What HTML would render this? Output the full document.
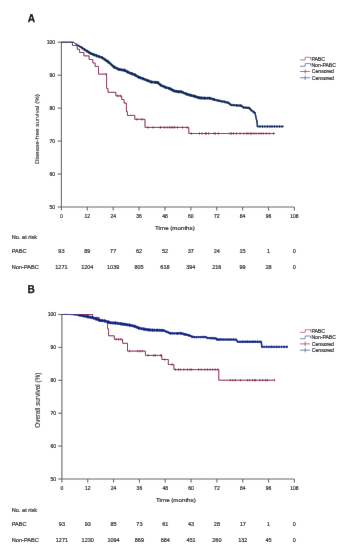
<!DOCTYPE html>
<html><head><meta charset="utf-8"><title>Kaplan-Meier survival curves</title>
<style>
html,body{margin:0;padding:0;background:#fff;}
body{width:345px;height:550px;overflow:hidden;}
svg{display:block;font-family:"Liberation Sans",Arial,sans-serif;}
text{stroke:#2a2a2a;stroke-width:0.2px;}
</style></head><body>
<svg width="345" height="550" viewBox="0 0 345 550">
<defs><filter id="bl" x="0" y="0" width="345" height="550" filterUnits="userSpaceOnUse"><feConvolveMatrix order="3" kernelMatrix="0.0016 0.0371 0.0016 0.0371 0.8450 0.0371 0.0016 0.0371 0.0016" edgeMode="duplicate"/></filter></defs><g filter="url(#bl)">
<rect width="345" height="550" fill="#fff"/>
<text x="27.8" y="21.7" font-size="10.2" font-weight="bold" fill="#000" style="stroke:#000;stroke-width:0.25px">A</text>
<text x="27.6" y="293.4" font-size="10.2" font-weight="bold" fill="#000" style="stroke:#000;stroke-width:0.25px">B</text>
<g stroke="#666666" stroke-width="1.1" fill="none">
<path d="M61.4 41.9 V207 H294.4"/>
<path d="M57.7 42.2 H61.4"/>
<path d="M57.7 75.16 H61.4"/>
<path d="M57.7 108.12 H61.4"/>
<path d="M57.7 141.08 H61.4"/>
<path d="M57.7 174.04 H61.4"/>
<path d="M57.7 207 H61.4"/>
<path d="M87.29 207 V210.6"/>
<path d="M113.18 207 V210.6"/>
<path d="M139.07 207 V210.6"/>
<path d="M164.96 207 V210.6"/>
<path d="M190.84 207 V210.6"/>
<path d="M216.73 207 V210.6"/>
<path d="M242.62 207 V210.6"/>
<path d="M268.51 207 V210.6"/>
<path d="M294.4 207 V210.6"/>
<path d="M61.4 207 V210.6"/>
</g>
<g font-size="5.1" fill="#1e1e1e" text-anchor="end">
<text x="55.2" y="44">100</text>
<text x="55.2" y="76.96">90</text>
<text x="55.2" y="109.92">80</text>
<text x="55.2" y="142.88">70</text>
<text x="55.2" y="175.84">60</text>
<text x="55.2" y="208.8">50</text>
</g>
<g font-size="5" fill="#1e1e1e" text-anchor="middle">
<text x="61.4" y="218">0</text>
<text x="87.29" y="218">12</text>
<text x="113.18" y="218">24</text>
<text x="139.07" y="218">36</text>
<text x="164.96" y="218">48</text>
<text x="190.84" y="218">60</text>
<text x="216.73" y="218">72</text>
<text x="242.62" y="218">84</text>
<text x="268.51" y="218">96</text>
<text x="294.4" y="218">108</text>
</g>
<text x="174.9" y="229.8" font-size="6.2" fill="#1e1e1e" text-anchor="middle">Time (months)</text>
<text transform="translate(39.2 129) rotate(-90)" font-size="6.25" fill="#222" style="stroke:#333;stroke-width:0.1px" text-anchor="middle">Disease-free survival (%)</text>
<path d="M61.4 42.2 H72.4 V45.5 H77.2 V49.3 H79.6 V52.5 H83.9 V55.9 H89.1 V59.5 H92.8 V63 H95.1 V66.4 H98.5 V74.1 H106.6 V88.4 H108 V92.3 H115.9 V95.9 H121.7 V99.5 H124 V103.1 H126.4 V111.5 H127.4 V115.4 H134.8 V119.3 H145 V127.4 H188.8 V133.5 H274.8" fill="none" stroke="#86174f" stroke-width="1"/>
<g stroke="#86174f" stroke-width="0.8">
<path d="M106.2 72.9 V75.3"/>
<path d="M117.6 94.7 V97.1"/>
<path d="M120.3 94.7 V97.1"/>
<path d="M137 118.1 V120.5"/>
<path d="M142 118.1 V120.5"/>
<path d="M147.8 126.2 V128.6"/>
<path d="M153 126.2 V128.6"/>
<path d="M164.3 126.2 V128.6"/>
<path d="M167 126.2 V128.6"/>
<path d="M169.6 126.2 V128.6"/>
<path d="M171.3 126.2 V128.6"/>
<path d="M173 126.2 V128.6"/>
<path d="M174.8 126.2 V128.6"/>
<path d="M177.4 126.2 V128.6"/>
<path d="M182.6 126.2 V128.6"/>
<path d="M187 126.2 V128.6"/>
<path d="M199.5 132.3 V134.7"/>
<path d="M202.1 132.3 V134.7"/>
<path d="M205.3 132.3 V134.7"/>
<path d="M206.4 132.3 V134.7"/>
<path d="M208.5 132.3 V134.7"/>
<path d="M214 132.3 V134.7"/>
<path d="M215.4 132.3 V134.7"/>
<path d="M218.3 132.3 V134.7"/>
<path d="M230.2 132.3 V134.7"/>
<path d="M231.7 132.3 V134.7"/>
<path d="M233.6 132.3 V134.7"/>
<path d="M236.5 132.3 V134.7"/>
<path d="M240.1 132.3 V134.7"/>
<path d="M243.8 132.3 V134.7"/>
<path d="M246.7 132.3 V134.7"/>
<path d="M248.1 132.3 V134.7"/>
<path d="M250.3 132.3 V134.7"/>
<path d="M251.7 132.3 V134.7"/>
<path d="M253.9 132.3 V134.7"/>
<path d="M256.1 132.3 V134.7"/>
<path d="M259 132.3 V134.7"/>
<path d="M261.2 132.3 V134.7"/>
<path d="M263.3 132.3 V134.7"/>
<path d="M266.2 132.3 V134.7"/>
<path d="M269.1 132.3 V134.7"/>
<path d="M273.5 132.3 V134.7"/>
</g>
<g fill="#86174f">
<circle cx="160.5" cy="127.4" r="1.1"/>
<circle cx="191.3" cy="133.5" r="1.1"/>
</g>
<g stroke="#072a60" stroke-linecap="round" fill="none"><path d="M61.4 42.2 L73.2 42.2" stroke-width="0.9"/><path d="M73.2 42.2 L75.8 43.8" stroke-width="1"/><path d="M75.8 43.8 L78.7 45.8" stroke-width="1.3"/><path d="M78.7 45.8 L81.6 47.5" stroke-width="1.53"/><path d="M81.6 47.5 L84.5 49.6" stroke-width="1.87"/><path d="M84.5 49.6 L87.4 51.3" stroke-width="1.95"/><path d="M87.4 51.3 L90.8 53.5" stroke-width="2.08"/><path d="M90.8 53.5 L96.6 55.7" stroke-width="2.21"/><path d="M96.6 55.7 L102.4 57.8" stroke-width="2.21"/><path d="M102.4 57.8 L108.2 61.8" stroke-width="2.21"/><path d="M108.2 61.8 L114 67" stroke-width="2.21"/><path d="M114 67 L118.6 69.3" stroke-width="2.21"/><path d="M118.6 69.3 L124.6 70.3" stroke-width="2.21"/><path d="M124.6 70.3 L128.1 72.2" stroke-width="2.21"/><path d="M128.1 72.2 L131.6 73.6" stroke-width="2.21"/><path d="M131.6 73.6 L135.1 75" stroke-width="2.21"/><path d="M135.1 75 L138.6 77.1" stroke-width="2.21"/><path d="M138.6 77.1 L143.2 78.8" stroke-width="2.21"/><path d="M143.2 78.8 L147.8 80.6" stroke-width="2.21"/><path d="M147.8 80.6 L151.3 82" stroke-width="2.21"/><path d="M151.3 82 L155.9 82.4" stroke-width="2.21"/><path d="M155.9 82.4 L157.9 82.6" stroke-width="2.21"/><path d="M157.9 82.6 L160.8 85.2" stroke-width="2.21"/><path d="M160.8 85.2 L165.4 87.3" stroke-width="2.21"/><path d="M165.4 87.3 L170.1 88.7" stroke-width="2.21"/><path d="M170.1 88.7 L174.1 91" stroke-width="2.21"/><path d="M174.1 91 L178.2 91.7" stroke-width="2.21"/><path d="M178.2 91.7 L181.7 91.9" stroke-width="2.21"/><path d="M181.7 91.9 L186.3 94" stroke-width="2.21"/><path d="M186.3 94 L190.9 95.4" stroke-width="2.21"/><path d="M190.9 95.4 L194.6 96.3" stroke-width="2.21"/><path d="M194.6 96.3 L199.3 97.9" stroke-width="2.21"/><path d="M199.3 97.9 L205.1 98.2" stroke-width="2.21"/><path d="M205.1 98.2 L209.7 98.2" stroke-width="2.21"/><path d="M209.7 98.2 L214.3 99.6" stroke-width="2.08"/><path d="M214.3 99.6 L219 100.8" stroke-width="1.95"/><path d="M219 100.8 L224.8 101.9" stroke-width="1.87"/><path d="M224.8 101.9 L228.5 102.9" stroke-width="1.78"/><path d="M228.5 102.9 L230.8 104.9" stroke-width="1.78"/><path d="M230.8 104.9 L236.6 105.4" stroke-width="1.78"/><path d="M236.6 105.4 L241.2 105.7" stroke-width="1.78"/><path d="M241.2 105.7 L243.6 107.5" stroke-width="1.78"/><path d="M243.6 107.5 L249.3 108" stroke-width="1.78"/><path d="M249.3 108 L251.1 110.1" stroke-width="1.78"/><path d="M251.1 110.1 L254 112.2" stroke-width="1.78"/><path d="M254 112.2 L255.1 113" stroke-width="1.66"/><path d="M255.1 113 L255.7 116.4" stroke-width="1.45"/><path d="M255.7 116.4 L256.9 121.1" stroke-width="1.6"/><path d="M256.9 121.1 L257.5 126.4" stroke-width="1.6"/><path d="M257.5 126.4 L258.6 126.5" stroke-width="1.6"/><path d="M258.6 126.5 L283 126.5" stroke-width="1.6"/></g><path d="M78.7 44.72v2.16M79.89 45.42v2.16M80.88 46v2.16M81.6 46.18v2.64M82.45 46.8v2.64M83.79 47.76v2.64M84.5 48.22v2.76M85.39 48.74v2.76M86.78 49.56v2.76M87.4 49.83v2.94M88.67 50.65v2.94M89.55 51.22v2.94M90.46 51.81v2.94M90.8 51.94v3.12M92.69 52.66v3.12M93.73 53.05v3.12M94.9 53.49v3.12M96.55 54.12v3.12M96.6 54.14v3.12M98.2 54.72v3.12M99.58 55.22v3.12M101.65 55.97v3.12M102.4 56.24v3.12M104.09 57.41v3.12M105.19 58.16v3.12M106.13 58.81v3.12M107.05 59.44v3.12M108.16 60.21v3.12M108.2 60.24v3.12M109.09 61.04v3.12M110.36 62.17v3.12M111.68 63.36v3.12M112.75 64.32v3.12M113.99 65.43v3.12M114 65.44v3.12M114.93 65.9v3.12M116.02 66.45v3.12M117.66 67.27v3.12M118.6 67.74v3.12M119.94 67.96v3.12M121.63 68.24v3.12M123.15 68.5v3.12M124.47 68.72v3.12M124.6 68.74v3.12M126.23 69.62v3.12M127.35 70.23v3.12M128.1 70.64v3.12M129.62 71.25v3.12M131.55 72.02v3.12M131.6 72.04v3.12M132.83 72.53v3.12M134.89 73.36v3.12M135.1 73.44v3.12M136.38 74.21v3.12M138.04 75.2v3.12M138.6 75.54v3.12M140.09 76.09v3.12M141.04 76.44v3.12M142.74 77.07v3.12M143.2 77.24v3.12M144.78 77.86v3.12M146.71 78.62v3.12M147.8 79.04v3.12M149.52 79.73v3.12M151.12 80.37v3.12M151.3 80.44v3.12M152.84 80.57v3.12M154.87 80.75v3.12M155.9 80.84v3.12M157.46 81v3.12M157.9 81.04v3.12M158.67 81.73v3.12M160.06 82.97v3.12M160.8 83.64v3.12M162.83 84.57v3.12M164.66 85.4v3.12M165.4 85.74v3.12M166.79 86.16v3.12M168.53 86.67v3.12M169.48 86.96v3.12M170.1 87.14v3.12M171.12 87.73v3.12M172.08 88.28v3.12M172.98 88.8v3.12M174.1 89.44v3.12M175.21 89.63v3.12M176.47 89.84v3.12M177.91 90.09v3.12M178.2 90.14v3.12M179.26 90.2v3.12M180.79 90.29v3.12M181.7 90.34v3.12M183.6 91.21v3.12M185.43 92.04v3.12M186.3 92.44v3.12M187.56 92.82v3.12M188.99 93.26v3.12M190.34 93.67v3.12M190.9 93.84v3.12M193.02 94.36v3.12M194.14 94.63v3.12M194.6 94.74v3.12M195.79 95.15v3.12M196.98 95.55v3.12M198.48 96.06v3.12M199.3 96.34v3.12M200.59 96.41v3.12M201.56 96.46v3.12M203.05 96.53v3.12M204.48 96.61v3.12M205.1 96.64v3.12M207.28 96.64v3.12M209.12 96.64v3.12M209.7 96.73v2.94M211.37 97.24v2.94M213.12 97.77v2.94M214.11 98.07v2.94M214.3 98.22v2.76M216.2 98.7v2.76M218.21 99.22v2.76M219 99.48v2.64M220.44 99.75v2.64M221.88 100.03v2.64M222.95 100.23v2.64M224.7 100.56v2.64M224.8 100.64v2.52M225.81 100.91v2.52M226.99 101.23v2.52M228.12 101.54v2.52M228.5 101.64v2.52M229.28 102.31v2.52M230 102.94v2.52M230.8 103.64v2.52M231.89 103.73v2.52M233.31 103.86v2.52M234.29 103.94v2.52M236.37 104.12v2.52M236.6 104.14v2.52M237.75 104.21v2.52M239.03 104.3v2.52M240.43 104.39v2.52M241.2 104.44v2.52M242.09 105.11v2.52M243.6 106.24v2.52M245.82 106.43v2.52M247.37 106.57v2.52M248.95 106.71v2.52M249.3 106.74v2.52M250.01 107.57v2.52M250.92 108.63v2.52M251.1 108.84v2.52M252.74 110.03v2.52M253.68 110.71v2.52M254 111.03v2.34M255.1 111.98v2.04M255.38 113.59v2.04M255.58 114.72v2.04" stroke="#072a60" stroke-width="0.8" fill="none"/>
<g stroke="#072a60" stroke-width="0.9">
<path d="M260 125.2 V127.8"/>
<path d="M262.5 125.2 V127.8"/>
<path d="M265 125.2 V127.8"/>
<path d="M267.5 125.2 V127.8"/>
<path d="M270 125.2 V127.8"/>
<path d="M272 125.2 V127.8"/>
<path d="M274.5 125.2 V127.8"/>
<path d="M277 125.2 V127.8"/>
<path d="M279.5 125.2 V127.8"/>
<path d="M282 125.2 V127.8"/>
</g>
<g fill="none" stroke-width="0.8">
<path d="M300.1 59.9 H305.2 V57.3 H310.5 V59.3" stroke="#b5507f"/>
<path d="M300.1 66.3 H305.2 V63.6 H310.5 V65.6" stroke="#4f6e9e"/>
<path d="M299.9 71.5 H310.1 M305.2 69.3 V73.7" stroke="#a8407a"/>
<path d="M299.9 77.8 H310.1 M305.2 75.6 V80" stroke="#4d6aa0"/>
</g>
<g font-size="5.1" fill="#1e1e1e">
<text x="311.4" y="60.5">PABC</text>
<text x="311.4" y="66.9">Non-PABC</text>
<text x="311.8" y="73.2">Censored</text>
<text x="311.8" y="79.6">Censored</text>
</g>
<g font-size="5.6" fill="#1e1e1e">
<text x="11.8" y="238.8">No. at risk</text>
<text x="11.8" y="252.8">PABC</text>
<text x="11.8" y="269.4">Non-PABC</text>
</g>
<g font-size="5.5" fill="#1e1e1e" text-anchor="middle">
<text x="61.4" y="252.8">93</text>
<text x="87.29" y="252.8">89</text>
<text x="113.18" y="252.8">77</text>
<text x="139.07" y="252.8">62</text>
<text x="164.96" y="252.8">52</text>
<text x="190.84" y="252.8">37</text>
<text x="216.73" y="252.8">24</text>
<text x="242.62" y="252.8">15</text>
<text x="268.51" y="252.8">1</text>
<text x="294.4" y="252.8">0</text>
<text x="61.4" y="269.4">1271</text>
<text x="87.29" y="269.4">1204</text>
<text x="113.18" y="269.4">1039</text>
<text x="139.07" y="269.4">805</text>
<text x="164.96" y="269.4">618</text>
<text x="190.84" y="269.4">394</text>
<text x="216.73" y="269.4">216</text>
<text x="242.62" y="269.4">99</text>
<text x="268.51" y="269.4">28</text>
<text x="294.4" y="269.4">0</text>
</g>
<g stroke="#666666" stroke-width="1.1" fill="none">
<path d="M61.9 314.2 V479 H294.4"/>
<path d="M58.2 314.5 H61.9"/>
<path d="M58.2 347.4 H61.9"/>
<path d="M58.2 380.3 H61.9"/>
<path d="M58.2 413.2 H61.9"/>
<path d="M58.2 446.1 H61.9"/>
<path d="M58.2 479 H61.9"/>
<path d="M87.73 479 V482.6"/>
<path d="M113.57 479 V482.6"/>
<path d="M139.4 479 V482.6"/>
<path d="M165.23 479 V482.6"/>
<path d="M191.07 479 V482.6"/>
<path d="M216.9 479 V482.6"/>
<path d="M242.73 479 V482.6"/>
<path d="M268.57 479 V482.6"/>
<path d="M294.4 479 V482.6"/>
<path d="M61.9 479 V482.6"/>
</g>
<g font-size="5.1" fill="#1e1e1e" text-anchor="end">
<text x="56.2" y="316.3">100</text>
<text x="56.2" y="349.2">90</text>
<text x="56.2" y="382.1">80</text>
<text x="56.2" y="415">70</text>
<text x="56.2" y="447.9">60</text>
<text x="56.2" y="480.8">50</text>
</g>
<g font-size="5" fill="#1e1e1e" text-anchor="middle">
<text x="61.9" y="490">0</text>
<text x="87.73" y="490">12</text>
<text x="113.57" y="490">24</text>
<text x="139.4" y="490">36</text>
<text x="165.23" y="490">48</text>
<text x="191.07" y="490">60</text>
<text x="216.9" y="490">72</text>
<text x="242.73" y="490">84</text>
<text x="268.57" y="490">96</text>
<text x="294.4" y="490">108</text>
</g>
<text x="175.9" y="501.8" font-size="6.2" fill="#1e1e1e" text-anchor="middle">Time (months)</text>
<text transform="translate(40 400.2) rotate(-90)" font-size="6.35" fill="#222" style="stroke:#333;stroke-width:0.1px" text-anchor="middle">Overall survival (%)</text>
<path d="M61.9 314.5 H92.6 V317.4 H99 V321.4 H107.5 V328.8 H108.6 V335.8 H114.3 V339.3 H122.6 V343.3 H127.5 V351.1 H145.4 V355.4 H161.8 V359.5 H168.3 V364.5 H173.9 V369.6 H218.8 V380.2 H274.8" fill="none" stroke="#86174f" stroke-width="1"/>
<g stroke="#86174f" stroke-width="0.8">
<path d="M116.2 338.1 V340.5"/>
<path d="M118.6 338.1 V340.5"/>
<path d="M120.9 338.1 V340.5"/>
<path d="M129.6 349.9 V352.3"/>
<path d="M137.9 349.9 V352.3"/>
<path d="M140.1 349.9 V352.3"/>
<path d="M142.2 349.9 V352.3"/>
<path d="M148 354.2 V356.6"/>
<path d="M153.8 354.2 V356.6"/>
<path d="M155.3 354.2 V356.6"/>
<path d="M164.7 358.3 V360.7"/>
<path d="M172 363.3 V365.7"/>
<path d="M175.6 368.4 V370.8"/>
<path d="M178.5 368.4 V370.8"/>
<path d="M180.4 368.4 V370.8"/>
<path d="M183.9 368.4 V370.8"/>
<path d="M187.4 368.4 V370.8"/>
<path d="M190 368.4 V370.8"/>
<path d="M191.7 368.4 V370.8"/>
<path d="M198.7 368.4 V370.8"/>
<path d="M201.3 368.4 V370.8"/>
<path d="M204.8 368.4 V370.8"/>
<path d="M207.4 368.4 V370.8"/>
<path d="M210 368.4 V370.8"/>
<path d="M212.6 368.4 V370.8"/>
<path d="M215.2 368.4 V370.8"/>
<path d="M217.8 368.4 V370.8"/>
<path d="M230.2 379 V381.4"/>
<path d="M232.8 379 V381.4"/>
<path d="M235.3 379 V381.4"/>
<path d="M240.4 379 V381.4"/>
<path d="M247.5 379 V381.4"/>
<path d="M249.5 379 V381.4"/>
<path d="M252.5 379 V381.4"/>
<path d="M254.6 379 V381.4"/>
<path d="M255.6 379 V381.4"/>
<path d="M260 379 V381.4"/>
<path d="M262.7 379 V381.4"/>
<path d="M265.7 379 V381.4"/>
<path d="M267.3 379 V381.4"/>
<path d="M274.6 379 V381.4"/>
</g>
<g fill="#86174f">
<circle cx="161.1" cy="355.4" r="1.1"/>
</g>
<g stroke="#0b2487" stroke-linecap="round" fill="none"><path d="M61.9 314.5 L66 314.4" stroke-width="0.9"/><path d="M66 314.4 L74.7 314.8" stroke-width="1"/><path d="M74.7 314.8 L79 315.4" stroke-width="1.35"/><path d="M79 315.4 L83.4 316" stroke-width="1.7"/><path d="M83.4 316 L87.7 316.7" stroke-width="2.17"/><path d="M87.7 316.7 L92.1 317.6" stroke-width="2.29"/><path d="M92.1 317.6 L96 318.9" stroke-width="2.29"/><path d="M96 318.9 L99.3 320.1" stroke-width="2.29"/><path d="M99.3 320.1 L105.1 321" stroke-width="2.29"/><path d="M105.1 321 L108.6 322.2" stroke-width="2.29"/><path d="M108.6 322.2 L110.9 322.9" stroke-width="2.29"/><path d="M110.9 322.9 L115.5 323" stroke-width="2.29"/><path d="M115.5 323 L121.3 323.9" stroke-width="2.29"/><path d="M121.3 323.9 L125 324.4" stroke-width="2.29"/><path d="M125 324.4 L129.6 325.2" stroke-width="2.29"/><path d="M129.6 325.2 L134.3 326.1" stroke-width="2.29"/><path d="M134.3 326.1 L138.9 328.1" stroke-width="2.29"/><path d="M138.9 328.1 L143.6 329" stroke-width="2.29"/><path d="M143.6 329 L148.2 329.8" stroke-width="2.29"/><path d="M148.2 329.8 L152.8 330.2" stroke-width="2.29"/><path d="M152.8 330.2 L157.5 330.2" stroke-width="2.29"/><path d="M157.5 330.2 L162.1 330.4" stroke-width="2.29"/><path d="M162.1 330.4 L163.5 330.4" stroke-width="2.17"/><path d="M163.5 330.4 L167 331.9" stroke-width="2"/><path d="M167 331.9 L170.4 333.3" stroke-width="1.95"/><path d="M170.4 333.3 L177.4 333.4" stroke-width="1.95"/><path d="M177.4 333.4 L180.9 333.2" stroke-width="1.95"/><path d="M180.9 333.2 L184.3 334.2" stroke-width="1.95"/><path d="M184.3 334.2 L189 335.3" stroke-width="1.95"/><path d="M189 335.3 L192.5 336.8" stroke-width="1.87"/><path d="M192.5 336.8 L194.8 337.2" stroke-width="1.78"/><path d="M194.8 337.2 L205.4 337" stroke-width="1.78"/><path d="M205.4 337 L207.8 338" stroke-width="1.78"/><path d="M207.8 338 L215.9 338.3" stroke-width="1.78"/><path d="M215.9 338.3 L217 339.5" stroke-width="1.78"/><path d="M217 339.5 L236.1 339.6" stroke-width="1.78"/><path d="M236.1 339.6 L237.8 341.8" stroke-width="1.74"/><path d="M237.8 341.8 L261.3 341.8" stroke-width="1.7"/><path d="M261.3 341.8 L261.8 346.9" stroke-width="1.57"/><path d="M261.8 346.9 L287.4 346.9" stroke-width="1.44"/></g><path d="M79 314.2v2.4M80.36 314.39v2.4M81.5 314.54v2.4M83.28 314.78v2.4M83.4 314.47v3.06M85.02 314.73v3.06M86.43 314.96v3.06M87.45 315.13v3.06M87.7 315.08v3.24M88.69 315.28v3.24M90.17 315.59v3.24M91.2 315.8v3.24M92.1 315.98v3.24M93.53 316.46v3.24M95.44 317.09v3.24M96 317.28v3.24M97.17 317.71v3.24M98.83 318.31v3.24M99.3 318.48v3.24M100.98 318.74v3.24M102.43 318.97v3.24M104.61 319.3v3.24M105.1 319.38v3.24M107.05 320.05v3.24M108.31 320.48v3.24M108.6 320.58v3.24M109.66 320.9v3.24M110.9 321.28v3.24M112.9 321.32v3.24M114.1 321.35v3.24M115.5 321.38v3.24M117.26 321.65v3.24M118.68 321.87v3.24M120.32 322.13v3.24M121.3 322.28v3.24M122.33 322.42v3.24M123.54 322.58v3.24M125 322.78v3.24M126.49 323.04v3.24M127.83 323.27v3.24M129.51 323.56v3.24M129.6 323.58v3.24M130.92 323.83v3.24M132.86 324.2v3.24M134.3 324.48v3.24M135.47 324.99v3.24M137.02 325.66v3.24M138.52 326.31v3.24M138.9 326.48v3.24M140.76 326.84v3.24M142.06 327.09v3.24M143.6 327.38v3.24M144.69 327.57v3.24M146.17 327.83v3.24M148.07 328.16v3.24M148.2 328.18v3.24M149.78 328.32v3.24M150.79 328.4v3.24M152.59 328.56v3.24M152.8 328.58v3.24M154.49 328.58v3.24M156.57 328.58v3.24M157.5 328.58v3.24M159.35 328.66v3.24M161.07 328.74v3.24M162.1 328.87v3.06M163.5 328.99v2.82M165.37 329.79v2.82M167 330.52v2.76M168.45 331.12v2.76M170.12 331.81v2.76M170.4 331.92v2.76M172.26 331.95v2.76M174.05 331.97v2.76M176.28 332v2.76M177.4 332.02v2.76M178.72 331.94v2.76M180.17 331.86v2.76M180.9 331.82v2.76M181.85 332.1v2.76M183.34 332.54v2.76M184.3 332.82v2.76M185.38 333.07v2.76M186.39 333.31v2.76M188.28 333.75v2.76M189 333.98v2.64M190.17 334.48v2.64M191.52 335.06v2.64M192.5 335.54v2.52M193.55 335.72v2.52M194.8 335.94v2.52M196.46 335.91v2.52M198.55 335.87v2.52M200.56 335.83v2.52M202.63 335.79v2.52M203.94 335.77v2.52M205.4 335.74v2.52M206.71 336.29v2.52M207.8 336.74v2.52M209.98 336.82v2.52M211.14 336.86v2.52M212.32 336.91v2.52M213.58 336.95v2.52M214.84 337v2.52M215.9 337.04v2.52M217 338.24v2.52M218.3 338.25v2.52M219.26 338.25v2.52M220.76 338.26v2.52M222.19 338.27v2.52M223.88 338.28v2.52M226.06 338.29v2.52M227.9 338.3v2.52M229.52 338.31v2.52M231.27 338.31v2.52M233.09 338.32v2.52M234.12 338.33v2.52M236.1 338.37v2.46M237.3 339.92v2.46M237.8 340.6v2.4M239.78 340.6v2.4M241.24 340.6v2.4M242.71 340.6v2.4M243.81 340.6v2.4M245.58 340.6v2.4M246.62 340.6v2.4M247.66 340.6v2.4M248.89 340.6v2.4M250.06 340.6v2.4M251.45 340.6v2.4M252.48 340.6v2.4M253.44 340.6v2.4M254.6 340.6v2.4M255.69 340.6v2.4M257.11 340.6v2.4M258.1 340.6v2.4M260.18 340.6v2.4M261.3 340.69v2.22M261.41 341.83v2.22M261.54 343.11v2.22M261.67 344.51v2.22M261.8 345.88v2.04M262.92 345.88v2.04M264.96 345.88v2.04M267.2 345.88v2.04M268.75 345.88v2.04M270.33 345.88v2.04M271.4 345.88v2.04M272.49 345.88v2.04M273.89 345.88v2.04M275.19 345.88v2.04M277.21 345.88v2.04M278.38 345.88v2.04M279.37 345.88v2.04M281.54 345.88v2.04M283.18 345.88v2.04M284.33 345.88v2.04M285.98 345.88v2.04M286.98 345.88v2.04" stroke="#0b2487" stroke-width="0.8" fill="none"/>
<g stroke="#0b2487" stroke-width="0.9">
<path d="M264 345.6 V348.2"/>
<path d="M266.5 345.6 V348.2"/>
<path d="M269 345.6 V348.2"/>
<path d="M271.5 345.6 V348.2"/>
<path d="M274 345.6 V348.2"/>
<path d="M276.5 345.6 V348.2"/>
<path d="M279 345.6 V348.2"/>
<path d="M281.5 345.6 V348.2"/>
<path d="M284 345.6 V348.2"/>
<path d="M287 345.6 V348.2"/>
<path d="M240 340.5 V343.1"/>
<path d="M242.5 340.5 V343.1"/>
<path d="M245 340.5 V343.1"/>
<path d="M247.5 340.5 V343.1"/>
<path d="M250 340.5 V343.1"/>
<path d="M252.5 340.5 V343.1"/>
<path d="M255 340.5 V343.1"/>
<path d="M257.5 340.5 V343.1"/>
<path d="M260 340.5 V343.1"/>
</g>
<g fill="none" stroke-width="0.8">
<path d="M300.1 332.3 H305.2 V329.7 H310.5 V331.7" stroke="#b5507f"/>
<path d="M300.1 338.7 H305.2 V336 H310.5 V338" stroke="#4f6e9e"/>
<path d="M299.9 343.9 H310.1 M305.2 341.7 V346.1" stroke="#a8407a"/>
<path d="M299.9 350.2 H310.1 M305.2 348 V352.4" stroke="#4d6aa0"/>
</g>
<g font-size="5.1" fill="#1e1e1e">
<text x="311.4" y="332.9">PABC</text>
<text x="311.4" y="339.3">Non-PABC</text>
<text x="311.8" y="345.6">Censored</text>
<text x="311.8" y="352">Censored</text>
</g>
<g font-size="5.6" fill="#1e1e1e">
<text x="11.8" y="511.8">No. at risk</text>
<text x="11.8" y="525.8">PABC</text>
<text x="11.8" y="542.4">Non-PABC</text>
</g>
<g font-size="5.5" fill="#1e1e1e" text-anchor="middle">
<text x="61.9" y="525.8">93</text>
<text x="87.73" y="525.8">93</text>
<text x="113.57" y="525.8">85</text>
<text x="139.4" y="525.8">73</text>
<text x="165.23" y="525.8">61</text>
<text x="191.07" y="525.8">43</text>
<text x="216.9" y="525.8">28</text>
<text x="242.73" y="525.8">17</text>
<text x="268.57" y="525.8">1</text>
<text x="294.4" y="525.8">0</text>
<text x="61.9" y="542.4">1271</text>
<text x="87.73" y="542.4">1230</text>
<text x="113.57" y="542.4">1094</text>
<text x="139.4" y="542.4">869</text>
<text x="165.23" y="542.4">684</text>
<text x="191.07" y="542.4">451</text>
<text x="216.9" y="542.4">260</text>
<text x="242.73" y="542.4">132</text>
<text x="268.57" y="542.4">45</text>
<text x="294.4" y="542.4">0</text>
</g>
</g>
</svg>
</body></html>
